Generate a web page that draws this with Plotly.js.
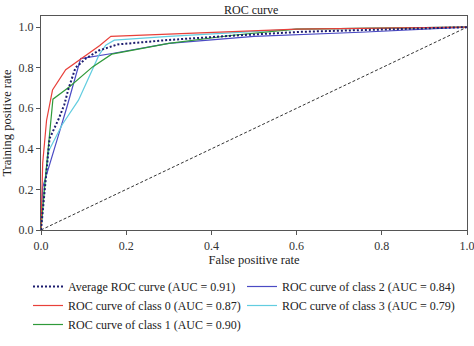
<!DOCTYPE html>
<html>
<head>
<meta charset="utf-8">
<script src="https://cdn.plot.ly/plotly-3.0.1.min.js"></script>
<style>html,body{margin:0;padding:0;background:#fff;}#chart{width:474px;height:346px;}</style>
</head>
<body>
<div id="chart"></div>
<script>
// Average ROC curve
const avgX = [0, 0.007, 0.02, 0.042, 0.055, 0.065, 0.081, 0.105, 0.136, 0.18, 0.3, 0.45, 0.61, 1];
const avgY = [0, 0.15, 0.45, 0.55, 0.62, 0.70, 0.80, 0.845, 0.885, 0.915, 0.937, 0.958, 0.977, 1];
// Class 0
const c0X = [0, 0.004, 0.013, 0.027, 0.058, 0.091, 0.138, 0.164, 0.47, 0.6, 1];
const c0Y = [0, 0.33, 0.54, 0.69, 0.79, 0.84, 0.91, 0.955, 0.98, 0.99, 1];
// Class 1
const c1X = [0, 0.01, 0.028, 0.067, 0.121, 0.166, 0.3, 0.45, 0.6, 1];
const c1Y = [0, 0.25, 0.645, 0.706, 0.804, 0.867, 0.92, 0.96, 0.99, 1];
// Class 2
const c2X = [0, 0.004, 0.04, 0.06, 0.093, 0.128, 0.167, 0.3, 0.5, 0.75, 1];
const c2Y = [0, 0.21, 0.46, 0.60, 0.845, 0.857, 0.87, 0.92, 0.955, 0.975, 1];
// Class 3
const c3X = [0, 0.005, 0.018, 0.05, 0.088, 0.12, 0.136, 0.152, 0.172, 0.3, 0.6, 1];
const c3Y = [0, 0.15, 0.39, 0.52, 0.64, 0.79, 0.862, 0.911, 0.936, 0.955, 0.99, 1];
// Chance diagonal
const diagX = [0, 1];
const diagY = [0, 1];

const names = [
  'Average ROC curve (AUC = 0.91)',
  'ROC curve of class 0 (AUC = 0.87)',
  'ROC curve of class 1 (AUC = 0.90)',
  'ROC curve of class 2 (AUC = 0.84)',
  'ROC curve of class 3 (AUC = 0.79)'
];
const xTicks = [0, 0.2, 0.4, 0.6, 0.8, 1.0];
const yTicks = [0, 0.2, 0.4, 0.6, 0.8, 1.0];

const serif = 'Liberation Serif, Times New Roman, serif';

const traces = [
  {x: diagX, y: diagY, mode: 'lines', line: {color: '#333', width: 1, dash: '3px,2px'}, showlegend: false, hoverinfo: 'skip'},
  {x: c2X, y: c2Y, mode: 'lines', name: names[3], line: {color: '#4a4ac4', width: 1.2}, legend: 'legend2'},
  {x: c3X, y: c3Y, mode: 'lines', name: names[4], line: {color: '#62cde0', width: 1.2}, legend: 'legend2'},
  {x: c1X, y: c1Y, mode: 'lines', name: names[2], line: {color: '#2f9a3a', width: 1.2}, legend: 'legend'},
  {x: c0X, y: c0Y, mode: 'lines', name: names[1], line: {color: '#e8403a', width: 1.2}, legend: 'legend'},
  {x: avgX, y: avgY, mode: 'lines', name: names[0], line: {color: '#1c1c6e', width: 2, dash: '2px,2px'}, legend: 'legend'}
];

const layout = {
  width: 474, height: 346,
  margin: {l: 41, r: 7, t: 16, b: 116, autoexpand: false},
  paper_bgcolor: '#fff', plot_bgcolor: '#fff',
  font: {family: serif, color: '#333', size: 12},
  title: {text: 'ROC curve', x: 0.53, xanchor: 'center', y: 0.985, yanchor: 'top', font: {family: serif, size: 12, color: '#222'}},
  xaxis: {
    range: [0, 1], tickvals: xTicks, tickformat: '.1f', ticklabeloverflow: 'allow', automargin: false,
    showgrid: false, zeroline: false, showline: true, mirror: true,
    linecolor: '#555', linewidth: 1.2, ticks: 'outside', ticklen: 4, tickcolor: '#555',
    tickfont: {family: serif, size: 12, color: '#333'},
    title: {text: 'False positive rate', font: {family: serif, size: 12.5, color: '#222'}, standoff: 3}
  },
  yaxis: {
    range: [0, 1.055], tickvals: yTicks, tickformat: '.1f', automargin: false,
    showgrid: false, zeroline: false, showline: true, mirror: true,
    linecolor: '#555', linewidth: 1.2, ticks: 'outside', ticklen: 4, tickcolor: '#555',
    tickfont: {family: serif, size: 12, color: '#333'},
    title: {text: 'Training positive rate', font: {family: serif, size: 12.5, color: '#222'}, standoff: 4}
  },
  legend: {
    xanchor: 'left', yanchor: 'top',
    orientation: 'v', traceorder: 'reversed', tracegroupgap: 0,
    font: {family: serif, size: 12, color: '#222'}, bgcolor: 'rgba(0,0,0,0)'
  },
  legend2: {
    xanchor: 'left', yanchor: 'top',
    orientation: 'v', traceorder: 'normal',
    font: {family: serif, size: 12, color: '#222'}, bgcolor: 'rgba(0,0,0,0)'
  },
  showlegend: true
};

// legend positions in pixels converted to paper fraction
const plotW = 474 - 41 - 7;
const plotH = 346 - 16 - 116;
layout.legend.x = (28 - 41) / plotW;
layout.legend.y = -(272 - 230) / plotH;
layout.legend2.x = (242 - 41) / plotW;
layout.legend2.y = -(272 - 230) / plotH;

Plotly.newPlot('chart', traces, layout, {displayModeBar: false, staticPlot: true});
</script>
</body>
</html>
